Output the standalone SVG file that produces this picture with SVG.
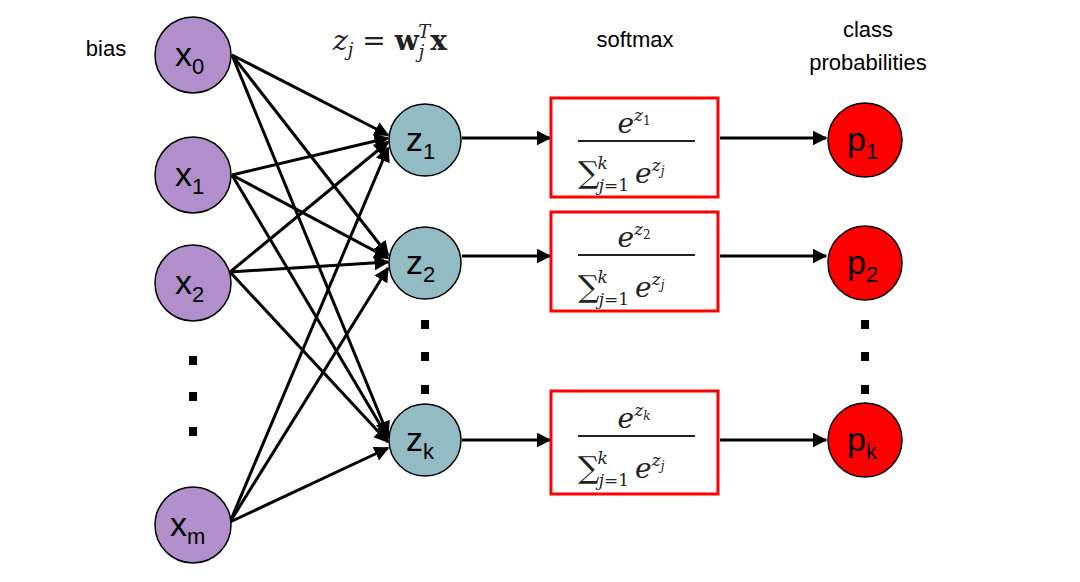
<svg xmlns="http://www.w3.org/2000/svg" width="1080" height="582" viewBox="0 0 1080 582">
<defs>
<marker id="ah" viewBox="0 0 10 10" refX="9" refY="5" markerWidth="5" markerHeight="5" orient="auto" markerUnits="strokeWidth"><path d="M0,0L10,5L0,10z" fill="#000"/></marker>
<style>
.x{fill:#b08fcb;stroke:#000;stroke-width:1.5}
.z{fill:#93bbc3;stroke:#000;stroke-width:1.5}
.p{fill:#ff0000;stroke:#000;stroke-width:1.5}
.nl{font-family:"Liberation Sans",Arial,sans-serif;font-size:34px;fill:#000}
.sub{font-size:22px}
.lbl{font-family:"Liberation Sans",Arial,sans-serif;font-size:22px;fill:#000;text-anchor:middle}
.m{font-family:"DejaVu Serif","Liberation Serif",serif;fill:#222}
.box{fill:#fff;stroke:#ff0000;stroke-width:3}
.e{stroke:#000;stroke-width:3;fill:none;marker-end:url(#ah)}
.dot{fill:#000}
</style>
</defs>
<rect width="1080" height="582" fill="#fff"/>
<g id="connectors">
<line class="e" x1="232" y1="55" x2="388" y2="135"/>
<line class="e" x1="232" y1="55" x2="388" y2="255"/>
<line class="e" x1="232" y1="55" x2="388" y2="435"/>
<line class="e" x1="232" y1="175" x2="388" y2="138"/>
<line class="e" x1="232" y1="175" x2="388" y2="258"/>
<line class="e" x1="232" y1="175" x2="388" y2="438"/>
<line class="e" x1="230" y1="272" x2="388" y2="142"/>
<line class="e" x1="230" y1="272" x2="388" y2="262"/>
<line class="e" x1="230" y1="272" x2="388" y2="442"/>
<line class="e" x1="230" y1="522" x2="388" y2="148"/>
<line class="e" x1="230" y1="522" x2="388" y2="268"/>
<line class="e" x1="230" y1="522" x2="388" y2="448"/>
<line class="e" x1="462" y1="138" x2="550" y2="138"/>
<line class="e" x1="462" y1="256" x2="550" y2="256"/>
<line class="e" x1="462" y1="440" x2="550" y2="440"/>
<line class="e" x1="720" y1="138" x2="826" y2="138"/>
<line class="e" x1="720" y1="256" x2="826" y2="256"/>
<line class="e" x1="720" y1="440" x2="826" y2="440"/>
</g>
<g id="labels">
<text class="lbl" x="106" y="56">bias</text>
<text class="lbl" x="635" y="47">softmax</text>
<text class="lbl" x="868" y="37">class</text>
<text class="lbl" x="868" y="70">probabilities</text>
<text class="m" x="333" y="50" font-size="28" font-style="italic">z<tspan font-size="18" dy="6">j</tspan><tspan dy="-6" font-style="normal"> = </tspan><tspan font-weight="bold" font-style="normal">w</tspan><tspan font-size="18" dy="8">j</tspan><tspan font-size="18" dx="-6" dy="-20">T</tspan><tspan font-weight="bold" font-style="normal" dy="12">x</tspan></text>
</g>
<g id="x0"><circle class="x" cx="193" cy="55" r="38"/><text class="nl" x="175" y="66">x<tspan class="sub" dy="8">0</tspan></text></g>
<g id="x1"><circle class="x" cx="193" cy="175" r="38"/><text class="nl" x="175" y="186">x<tspan class="sub" dy="8">1</tspan></text></g>
<g id="x2"><circle class="x" cx="193" cy="283" r="38"/><text class="nl" x="175" y="294">x<tspan class="sub" dy="8">2</tspan></text></g>
<g id="xdots"><rect class="dot" x="189" y="356" width="8" height="9"/><rect class="dot" x="189" y="392" width="8" height="9"/><rect class="dot" x="189" y="427" width="8" height="9"/></g>
<g id="xm"><circle class="x" cx="193" cy="525" r="38"/><text class="nl" x="170" y="536">x<tspan class="sub" dy="8">m</tspan></text></g>
<g id="z1"><circle class="z" cx="425" cy="140" r="36"/><text class="nl" x="406" y="151">z<tspan class="sub" dy="8">1</tspan></text></g>
<g id="z2"><circle class="z" cx="425" cy="263" r="36"/><text class="nl" x="406" y="274">z<tspan class="sub" dy="8">2</tspan></text></g>
<g id="zdots"><rect class="dot" x="421" y="320" width="8" height="9"/><rect class="dot" x="421" y="352" width="8" height="9"/><rect class="dot" x="421" y="385" width="8" height="9"/></g>
<g id="zk"><circle class="z" cx="425" cy="440" r="36"/><text class="nl" x="406" y="451">z<tspan class="sub" dy="8">k</tspan></text></g>
<g id="s1"><rect class="box" x="551" y="98" width="167" height="99"/>
<text class="m" x="634" y="133" font-size="28" font-style="italic" text-anchor="middle">e<tspan font-size="17" dy="-12">z<tspan font-size="12" dy="4" font-style="normal">1</tspan></tspan></text>
<line x1="578" y1="141" x2="695" y2="141" stroke="#222" stroke-width="2"/>
<text class="m" x="578" y="183" font-size="30">∑<tspan font-size="17" font-style="italic" dy="-14" dx="-2">k</tspan><tspan font-size="17" font-style="italic" dy="22" dx="-9">j</tspan><tspan font-size="17">=1</tspan><tspan font-size="28" font-style="italic" dy="-8" dx="6">e</tspan><tspan font-size="17" font-style="italic" dy="-12">z</tspan><tspan font-size="12" font-style="italic" dy="4">j</tspan></text></g>
<g id="s2"><rect class="box" x="551" y="212" width="167" height="99"/>
<text class="m" x="634" y="247" font-size="28" font-style="italic" text-anchor="middle">e<tspan font-size="17" dy="-12">z<tspan font-size="12" dy="4" font-style="normal">2</tspan></tspan></text>
<line x1="578" y1="255" x2="695" y2="255" stroke="#222" stroke-width="2"/>
<text class="m" x="578" y="297" font-size="30">∑<tspan font-size="17" font-style="italic" dy="-14" dx="-2">k</tspan><tspan font-size="17" font-style="italic" dy="22" dx="-9">j</tspan><tspan font-size="17">=1</tspan><tspan font-size="28" font-style="italic" dy="-8" dx="6">e</tspan><tspan font-size="17" font-style="italic" dy="-12">z</tspan><tspan font-size="12" font-style="italic" dy="4">j</tspan></text></g>
<g id="sk"><rect class="box" x="551" y="391" width="167" height="103"/>
<text class="m" x="634" y="428" font-size="28" font-style="italic" text-anchor="middle">e<tspan font-size="17" dy="-12">z<tspan font-size="12" dy="4">k</tspan></tspan></text>
<line x1="578" y1="436" x2="695" y2="436" stroke="#222" stroke-width="2"/>
<text class="m" x="578" y="478" font-size="30">∑<tspan font-size="17" font-style="italic" dy="-14" dx="-2">k</tspan><tspan font-size="17" font-style="italic" dy="22" dx="-9">j</tspan><tspan font-size="17">=1</tspan><tspan font-size="28" font-style="italic" dy="-8" dx="6">e</tspan><tspan font-size="17" font-style="italic" dy="-12">z</tspan><tspan font-size="12" font-style="italic" dy="4">j</tspan></text></g>
<g id="p1"><circle class="p" cx="865" cy="140" r="37"/><text class="nl" x="847" y="151">p<tspan class="sub" dy="8">1</tspan></text></g>
<g id="p2"><circle class="p" cx="865" cy="263" r="37"/><text class="nl" x="847" y="274">p<tspan class="sub" dy="8">2</tspan></text></g>
<g id="pdots"><rect class="dot" x="861" y="320" width="8" height="9"/><rect class="dot" x="861" y="352" width="8" height="9"/><rect class="dot" x="861" y="385" width="8" height="9"/></g>
<g id="pk"><circle class="p" cx="865" cy="440" r="37"/><text class="nl" x="847" y="451">p<tspan class="sub" dy="8">k</tspan></text></g>
</svg>
